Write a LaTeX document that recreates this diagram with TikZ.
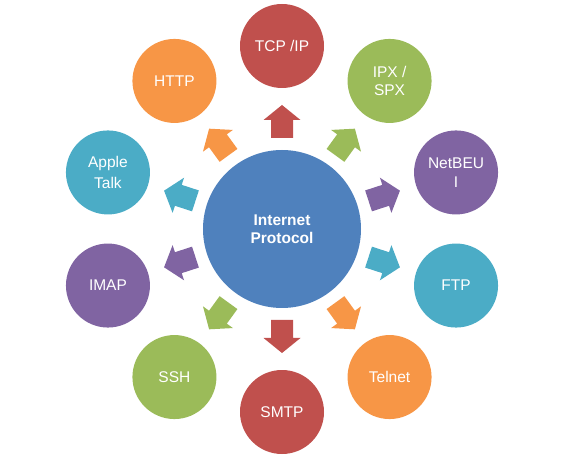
\documentclass[tikz,border=0pt]{standalone}
\usepackage{fontspec}
\setmainfont{Liberation Sans}
\definecolor{cred}{HTML}{C0504D}
\definecolor{cgreen}{HTML}{9BBB59}
\definecolor{cpurple}{HTML}{8064A2}
\definecolor{cteal}{HTML}{4BACC6}
\definecolor{corange}{HTML}{F79646}
\definecolor{cblue}{HTML}{4F81BD}
\tikzset{
  outer/.style={circle, minimum size=84pt, inner sep=0pt, text=white,
    font=\fontsize{15.5}{18.5}\selectfont, align=center},
  hub/.style={circle, fill=cblue, minimum size=158pt, inner sep=0pt, text=white,
    font=\bfseries\fontsize{15.5}{18}\selectfont, align=center},
  blockarrow/.pic={\fill[pic actions] (-16.5,-11) -- (1.5,-11) -- (1.5,-18.5) -- (16.5,0)
    -- (1.5,18.5) -- (1.5,11) -- (-16.5,11) -- cycle;}
}
\begin{document}
\begin{tikzpicture}[x=1pt,y=1pt]
\useasboundingbox (-282,-228) rectangle (282,229);
\node[hub] (hub) at (0,0) {Internet\\Protocol};
\foreach \k/\txt/\col in {0/{TCP /IP}/cred, 1/{IPX /\\SPX}/cgreen, 2/{NetBEU\\I}/cpurple,
  3/{FTP}/cteal, 4/{Telnet}/corange, 5/{SMTP}/cred, 6/{SSH}/cgreen, 7/{IMAP}/cpurple,
  8/{Apple\\[3pt]Talk}/cteal, 9/{HTTP}/corange} {
  \pgfmathsetmacro\ang{90-36*\k}
  \node[outer, fill=\col] (p\k) at (\ang:183) {\txt};
  \pic[fill=\col, rotate=\ang] (a\k) at (\ang:107.5) {blockarrow};
}
\end{tikzpicture}
\end{document}
